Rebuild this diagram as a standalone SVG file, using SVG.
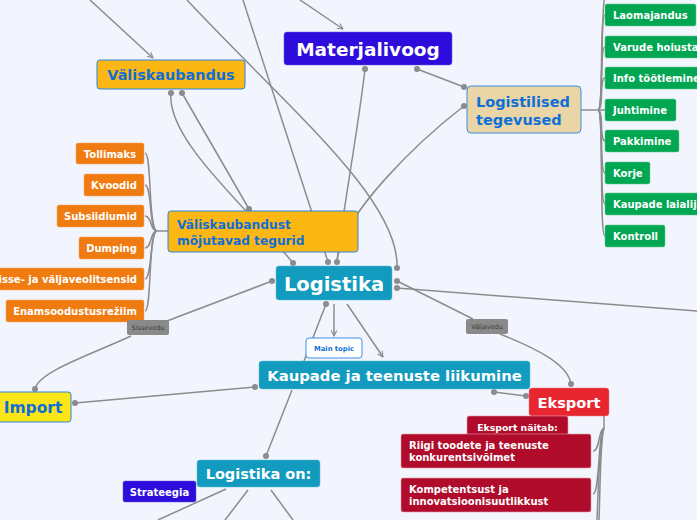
<svg xmlns="http://www.w3.org/2000/svg" width="697" height="520" viewBox="0 0 697 520">
<defs>
<style>
text{font-family:"DejaVu Sans",Verdana,sans-serif;font-weight:bold}
.c{fill:none;stroke:#8c8c8c;stroke-width:1.5}
.d{fill:#8c8c8c}
.w{fill:#fff}
.b{fill:#0f6fd6}
.yel{fill:#fdb714;stroke:#2b85e0;stroke-width:1}
.teal{fill:#129bbe;stroke:#5cc0da;stroke-width:0.5}
.grn{fill:#00a651;stroke:#5fcb8c;stroke-width:0.5}
.org{fill:#ef7b11;stroke:#f6a760;stroke-width:0.5}
.drd{fill:#b00b2a;stroke:#e89aa8;stroke-width:0.6}
.lbl{fill:#8a8a8a}
.lt{font-weight:normal;font-size:6.5px;fill:#3a3a3a}
</style>
<marker id="ar" viewBox="0 0 10 10" refX="9" refY="5" markerWidth="7" markerHeight="7" orient="auto" markerUnits="userSpaceOnUse">
<path d="M1,1 L9,5 L1,9" fill="none" stroke="#8c8c8c" stroke-width="1.6"/>
</marker>
</defs>
<rect width="697" height="520" fill="#f2f5fd"/>

<g id="connectors">
<path class="c" d="M90,0 L153,58" marker-end="url(#ar)"/>
<path class="c" d="M300,0 L343,29" marker-end="url(#ar)"/>
<path class="c" d="M187,0 C290,110 400,200 397,268"/>
<path class="c" d="M243,0 L328,262"/>
<path class="c" d="M365,69 C358,130 343,210 337,262"/>
<path class="c" d="M417,69 L464,87"/>
<path class="c" d="M464,106 C420,140 340,215 337,262"/>
<path class="c" d="M171,93 C166,140 250,210 293,263"/>
<path class="c" d="M182,93 L249,209"/>
<path class="c" d="M272,281 L167,321"/>
<path class="c" d="M131,336 C90,355 38,372 35,389"/>
<path class="c" d="M397,281 L473,319"/>
<path class="c" d="M500,334 C540,350 568,365 571,384"/>
<path class="c" d="M397,288 L697,311"/>
<path class="c" d="M326,304 L304,361"/>
<path class="c" d="M334,304 L334,336" marker-end="url(#ar)"/>
<path class="c" d="M347,304 L383,357" marker-end="url(#ar)"/>
<path class="c" d="M255,387 L75,403"/>
<path class="c" d="M494,392 L526,396"/>
<path class="c" d="M292,390 L266,456"/>
<path class="c" d="M226,489 L158,520"/>
<path class="c" d="M248,490 L225,520"/>
<path class="c" d="M271,490 L293,520"/>
<path class="c" d="M168,231 L157,231"/>
<path class="c" d="M157,231 C148,231 152,153 145,153"/>
<path class="c" d="M157,231 C149,231 152,185 145,185"/>
<path class="c" d="M157,231 C150,231 152,216 145,216"/>
<path class="c" d="M157,231 C150,231 152,248 145,248"/>
<path class="c" d="M157,231 C150,231 152,279 145,279"/>
<path class="c" d="M157,231 C148,231 152,311 145,311"/>
<path class="c" d="M581,110 L598,110"/>
<path class="c" d="M598,110 C604,110 600,0 606,-12"/>
<path class="c" d="M598,110 C604,110 599,15 605,15"/>
<path class="c" d="M598,110 C604,110 599,47 605,47"/>
<path class="c" d="M598,110 C604,110 599,78 605,78"/>
<path class="c" d="M598,110 L605,110"/>
<path class="c" d="M598,110 C604,110 599,141 605,141"/>
<path class="c" d="M598,110 C604,110 599,173 605,173"/>
<path class="c" d="M598,110 C604,110 599,204 605,204"/>
<path class="c" d="M598,110 C604,110 599,236 605,236"/>
<path class="c" d="M604,416 L604,428"/>
<path class="c" d="M604,428 C598,430 600,451 593,451"/>
<path class="c" d="M604,428 C598,430 600,494 593,494"/>
<path class="c" d="M604,428 C599,440 598,500 597,520"/>
<path class="c" d="M604,428 C600,440 600,500 599,520"/>
<circle class="d" cx="397" cy="268" r="3"/>
<circle class="d" cx="328" cy="262" r="3"/>
<circle class="d" cx="337" cy="262" r="3"/>
<circle class="d" cx="365" cy="69" r="3"/>
<circle class="d" cx="417" cy="69" r="3"/>
<circle class="d" cx="464" cy="87" r="3"/>
<circle class="d" cx="464" cy="106" r="3"/>
<circle class="d" cx="171" cy="93" r="3"/>
<circle class="d" cx="182" cy="93" r="3"/>
<circle class="d" cx="293" cy="263" r="3"/>
<circle class="d" cx="249" cy="209" r="3"/>
<circle class="d" cx="272" cy="281" r="3"/>
<circle class="d" cx="35" cy="389" r="3"/>
<circle class="d" cx="397" cy="281" r="3"/>
<circle class="d" cx="397" cy="288" r="3"/>
<circle class="d" cx="571" cy="384" r="3"/>
<circle class="d" cx="326" cy="304" r="3"/>
<circle class="d" cx="255" cy="387" r="3"/>
<circle class="d" cx="75" cy="403" r="3"/>
<circle class="d" cx="494" cy="392" r="3"/>
<circle class="d" cx="526" cy="396" r="3"/>
<circle class="d" cx="266" cy="456" r="3"/>
</g>

<g id="valiskaubandus"><rect class="yel" x="97" y="60" width="148" height="29" rx="3"/><text class="b" x="171" y="80" font-size="14.4" text-anchor="middle">Väliskaubandus</text></g>
<g id="materjalivoog"><rect x="284" y="32" width="168" height="33" rx="3" fill="#2e0ddc" stroke="#6a55e6" stroke-width="0.5"/><text class="w" x="368" y="55.5" font-size="18.5" text-anchor="middle">Materjalivoog</text></g>
<g id="logistilised"><rect x="467" y="86" width="114" height="47" rx="4" fill="#e9d5a6" stroke="#3b8fe0" stroke-width="1"/><text class="b" x="476" y="107" font-size="14.5">Logistilised</text><text class="b" x="476" y="125" font-size="14.5">tegevused</text></g>

<g id="g-laomajandus"><rect class="grn" x="605" y="4" width="91" height="22" rx="2"/><text class="w" x="613" y="19" font-size="10">Laomajandus</text></g>
<g id="g-varude"><rect class="grn" x="605" y="36" width="110" height="22" rx="2"/><text class="w" x="613" y="51" font-size="10">Varude hoiustamine</text></g>
<g id="g-info"><rect class="grn" x="605" y="67" width="110" height="22" rx="2"/><text class="w" x="613" y="82" font-size="10">Info töötlemine</text></g>
<g id="g-juhtimine"><rect class="grn" x="605" y="99" width="71" height="22" rx="2"/><text class="w" x="613" y="114" font-size="10">Juhtimine</text></g>
<g id="g-pakkimine"><rect class="grn" x="605" y="130" width="74" height="22" rx="2"/><text class="w" x="613" y="145" font-size="10">Pakkimine</text></g>
<g id="g-korje"><rect class="grn" x="605" y="162" width="45" height="22" rx="2"/><text class="w" x="613" y="177" font-size="10">Korje</text></g>
<g id="g-kaupade"><rect class="grn" x="605" y="193" width="130" height="22" rx="2"/><text class="w" x="613" y="208" font-size="10">Kaupade laialijaotus</text></g>
<g id="g-kontroll"><rect class="grn" x="605" y="225" width="60" height="22" rx="2"/><text class="w" x="613" y="240" font-size="10">Kontroll</text></g>

<g id="o-tollimaks"><rect class="org" x="76" y="143" width="68" height="21" rx="2"/><text class="w" x="110" y="157.5" font-size="10" text-anchor="middle">Tollimaks</text></g>
<g id="o-kvoodid"><rect class="org" x="84" y="174" width="60" height="22" rx="2"/><text class="w" x="114" y="189" font-size="10" text-anchor="middle">Kvoodid</text></g>
<g id="o-subsiidiumid"><rect class="org" x="57" y="205" width="87" height="22" rx="2"/><text class="w" x="100.5" y="220" font-size="10" text-anchor="middle">Subsiidiumid</text></g>
<g id="o-dumping"><rect class="org" x="79" y="237" width="65" height="22" rx="2"/><text class="w" x="111.5" y="252" font-size="10" text-anchor="middle">Dumping</text></g>
<g id="o-litsensid"><rect class="org" x="-20" y="268" width="164" height="22" rx="2"/><text class="w" x="137" y="283" font-size="10" text-anchor="end">Sisse- ja väljaveolitsensid</text></g>
<g id="o-enamsoodustus"><rect class="org" x="6" y="300" width="138" height="22" rx="2"/><text class="w" x="75" y="315" font-size="10" text-anchor="middle">Enamsoodustusrežiim</text></g>

<g id="valiskaubandust-tegurid"><rect class="yel" x="168" y="211" width="190" height="41" rx="3"/><text class="b" x="177" y="229" font-size="12.2">Väliskaubandust</text><text class="b" x="177" y="245" font-size="12.2">mõjutavad tegurid</text></g>

<g id="logistika"><rect class="teal" x="276" y="266" width="116" height="34" rx="3"/><text class="w" x="334" y="291" font-size="19.5" text-anchor="middle">Logistika</text></g>
<g id="main-topic"><rect x="306" y="338" width="56" height="20" rx="3" fill="#fff" stroke="#3d8fe8" stroke-width="1"/><text class="b" x="334" y="351" font-size="6.8" text-anchor="middle">Main topic</text></g>
<g id="kaupade-liikumine"><rect class="teal" x="259" y="361" width="271" height="28" rx="3"/><text class="w" x="394.5" y="381" font-size="14.8" text-anchor="middle">Kaupade ja teenuste liikumine</text></g>

<g id="sissevedu"><rect class="lbl" x="127" y="320" width="42" height="15" rx="2"/><text class="lt" x="148" y="330" text-anchor="middle">Sissevedu</text></g>
<g id="valjavedu"><rect class="lbl" x="466" y="319" width="42" height="15" rx="2"/><text class="lt" x="487" y="329" text-anchor="middle">Väljavedu</text></g>

<g id="import"><rect x="-6" y="392" width="77" height="30" rx="3" fill="#fde617" stroke="#2b85e0" stroke-width="1"/><text class="b" x="33" y="413" font-size="15.5" text-anchor="middle">Import</text></g>

<g id="eksport"><rect x="529" y="388" width="80" height="28" rx="3" fill="#e8262f" stroke="#f07a80" stroke-width="0.5"/><text class="w" x="569" y="408" font-size="14.6" text-anchor="middle">Eksport</text></g>
<g id="eksport-naitab"><rect class="drd" x="467" y="416" width="101" height="22" rx="2"/><text class="w" x="517.5" y="431" font-size="9.3" text-anchor="middle">Eksport näitab:</text></g>
<g id="riigi-toodete"><rect class="drd" x="401" y="434" width="190" height="34" rx="2" stroke="none"/><text class="w" x="409" y="449" font-size="10">Riigi toodete ja teenuste</text><text class="w" x="409" y="461" font-size="10">konkurentsivõimet</text></g>
<g id="kompetentsust"><rect class="drd" x="401" y="478" width="190" height="34" rx="2" stroke="none"/><text class="w" x="409" y="493" font-size="10">Kompetentsust ja</text><text class="w" x="409" y="505" font-size="10">innovatsioonisuutlikkust</text></g>

<g id="logistika-on"><rect class="teal" x="197" y="460" width="123" height="27" rx="3"/><text class="w" x="258.5" y="479" font-size="14.5" text-anchor="middle">Logistika on:</text></g>
<g id="strateegia"><rect x="123" y="481" width="73" height="21" rx="2" fill="#2e0ddc" stroke="#6a55e6" stroke-width="0.5"/><text class="w" x="159.5" y="495.5" font-size="10" text-anchor="middle">Strateegia</text></g>
</svg>
